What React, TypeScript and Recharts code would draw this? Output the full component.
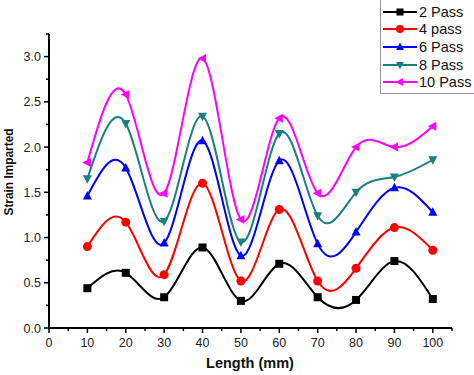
import React from 'react';
import { LineChart, Line, XAxis, YAxis } from 'recharts';

const lengths = [10, 20, 30, 40, 50, 60, 70, 80, 90, 100];
const pass2 = [0.44, 0.61, 0.34, 0.89, 0.30, 0.71, 0.34, 0.31, 0.74, 0.32];
const pass4 = [0.90, 1.17, 0.59, 1.60, 0.52, 1.31, 0.52, 0.66, 1.11, 0.86];
const pass6 = [1.46, 1.77, 0.94, 2.07, 0.80, 1.85, 0.93, 1.06, 1.55, 1.28];
const pass8 = [1.65, 2.26, 1.18, 2.34, 0.95, 2.15, 1.24, 1.50, 1.67, 1.86];
const pass10 = [1.83, 2.58, 1.49, 2.98, 1.20, 2.32, 1.49, 2.00, 2.00, 2.23];

const seriesNames = ['2 Pass', '4 pass', '6 Pass', '8 Pass', '10 Pass'];
const seriesKeys = ['p2', 'p4', 'p6', 'p8', 'p10'];
const seriesColors = ['#000000', '#ff0000', '#0000ff', '#1a7f7f', '#ff00ff'];
const seriesShapes = ['square', 'circle', 'up', 'down', 'left'];

const xTicks = [0, 5, 10, 15, 20, 25, 30, 35, 40, 45, 50, 55, 60, 65, 70, 75, 80, 85, 90, 95, 100, 105];
const yTicks = [0, 0.25, 0.5, 0.75, 1, 1.25, 1.5, 1.75, 2, 2.25, 2.5, 2.75, 3, 3.25];

const data = lengths.map((x, i) => ({
  x,
  p2: pass2[i],
  p4: pass4[i],
  p6: pass6[i],
  p8: pass8[i],
  p10: pass10[i],
}));

const FONT = '"Liberation Sans", Arial, sans-serif';

function Marker({ shape, cx, cy, color, s = 4.5 }: any) {
  if (cx == null || cy == null) return null;
  if (shape === 'square') return <rect x={cx - s + 0.5} y={cy - s + 0.5} width={2 * s - 1} height={2 * s - 1} fill={color} />;
  if (shape === 'circle') return <circle cx={cx} cy={cy} r={s} fill={color} />;
  if (shape === 'up') return <polygon points={`${cx},${cy - s - 0.5} ${cx - s},${cy + s - 1} ${cx + s},${cy + s - 1}`} fill={color} />;
  if (shape === 'down') return <polygon points={`${cx},${cy + s + 0.5} ${cx - s},${cy - s + 1} ${cx + s},${cy - s + 1}`} fill={color} />;
  return <polygon points={`${cx - s - 0.5},${cy} ${cx + s - 1},${cy - s} ${cx + s - 1},${cy + s}`} fill={color} />;
}

const XTick = (props: any) => {
  const { x, y, payload } = props;
  const v = payload.value;
  const major = v % 10 === 0;
  return (
    <g>
      <line x1={x} x2={x} y1={y} y2={y + (major ? 5 : 3)} stroke="#000" strokeWidth={1.5} />
      {major && v <= 100 && (
        <text x={x} y={y + 19} textAnchor="middle" fontSize={12.5} fill="#222" fontFamily={FONT}>{v}</text>
      )}
    </g>
  );
};

const YTick = (props: any) => {
  const { x, y, payload } = props;
  const v = payload.value;
  const major = Math.abs(v * 2 - Math.round(v * 2)) < 1e-6;
  return (
    <g>
      <line x1={x} x2={x - (major ? 5 : 3)} y1={y} y2={y} stroke="#000" strokeWidth={1.5} />
      {major && (
        <text x={x - 8} y={y + 4.5} textAnchor="end" fontSize={12.5} fill="#222" fontFamily={FONT}>{v.toFixed(1)}</text>
      )}
    </g>
  );
};

const LegendBox = () => (
  <div style={{ position: 'absolute', left: 380, top: -1, border: '1.5px solid #999', background: '#fff', width: 110, padding: '3px 0 2px 0', boxSizing: 'border-box' }}>
    {seriesNames.map((n, i) => (
      <div key={n} style={{ display: 'flex', alignItems: 'center', height: 17.6 }}>
        <svg width={38} height={14} style={{ display: 'block' }}>
          <line x1={2} x2={36} y1={7} y2={7} stroke={seriesColors[i]} strokeWidth={2} />
          <Marker shape={seriesShapes[i]} cx={19} cy={7} color={seriesColors[i]} s={4} />
        </svg>
        <span style={{ fontFamily: FONT, fontSize: 14.5, color: '#111', lineHeight: '14px' }}>{n}</span>
      </div>
    ))}
  </div>
);

export default function App() {
  return (
    <div style={{ position: 'absolute', left: 0, top: 0, width: 474, height: 375, background: '#fff', overflow: 'hidden' }}>
      <LineChart width={474} height={375} data={data} margin={{ top: 34, right: 22, bottom: 0, left: 0 }}>
        <XAxis
          dataKey="x"
          type="number"
          domain={[0, 105]}
          ticks={xTicks}
          interval={0}
          tickSize={0}
          tickMargin={0}
          tickLine={false}
          axisLine={{ stroke: '#000', strokeWidth: 2 }}
          tick={<XTick />}
          height={47}
          allowDataOverflow
        />
        <YAxis
          type="number"
          domain={[0, 3.25]}
          ticks={yTicks}
          interval={0}
          tickSize={0}
          tickMargin={0}
          tickLine={false}
          axisLine={{ stroke: '#000', strokeWidth: 2 }}
          tick={<YTick />}
          width={49}
          allowDataOverflow
        />
        {seriesKeys.map((k, i) => (
          <Line
            key={k}
            dataKey={k}
            name={seriesNames[i]}
            type="natural"
            stroke={seriesColors[i]}
            strokeWidth={2}
            isAnimationActive={false}
            dot={(p: any) => <Marker key={`${k}-${p.index}`} shape={seriesShapes[i]} cx={p.cx} cy={p.cy} color={seriesColors[i]} />}
            activeDot={false}
          />
        ))}
        <text x={250} y={368} textAnchor="middle" fontSize={14.5} fontWeight="bold" fontFamily={FONT} fill="#111">Length (mm)</text>
        <text x={12.5} y={172} textAnchor="middle" fontSize={13.5} fontWeight="bold" fontFamily={FONT} fill="#111" textLength={87} lengthAdjust="spacingAndGlyphs" transform="rotate(-90 12.5 172)">Strain Imparted</text>
      </LineChart>
      <LegendBox />
    </div>
  );
}
